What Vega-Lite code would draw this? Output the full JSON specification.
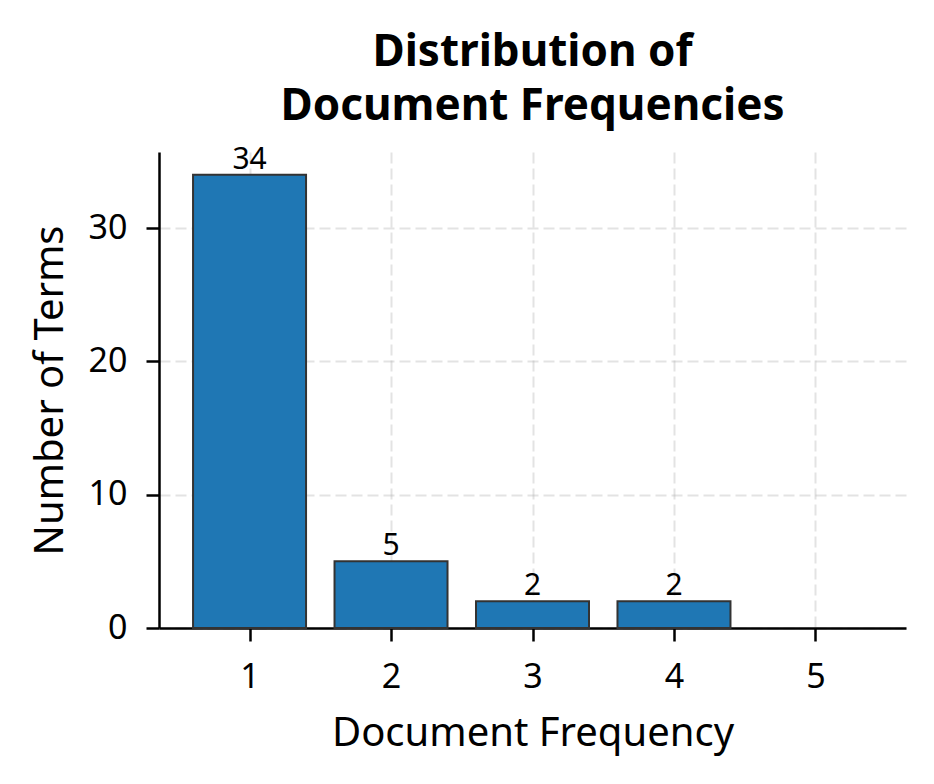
{
  "$schema": "https://vega.github.io/schema/vega-lite/v6.json",
  "width": 747,
  "height": 476,
  "autosize": {"type": "none"},
  "padding": {"left": 159, "top": 152, "right": 28, "bottom": 156},
  "background": "white",
  "config": {
    "view": {"stroke": null},
    "font": "Noto Sans",
    "axis": {
      "labelFont": "Noto Sans",
      "titleFont": "Noto Sans",
      "labelFontSize": 34,
      "titleFontSize": 40,
      "titleFontWeight": "normal",
      "labelColor": "black",
      "titleColor": "black",
      "domainColor": "black",
      "domainWidth": 2.5,
      "tickColor": "black",
      "tickWidth": 2.5,
      "tickSize": 13,
      "gridColor": "#b0b0b0",
      "gridOpacity": 0.35,
      "gridDash": [11, 5],
      "gridWidth": 2,
      "zindex": 1
    }
  },
  "title": {
    "text": ["Distribution of", "Document Frequencies"],
    "font": "Noto Sans",
    "fontSize": 44,
    "fontWeight": "bold",
    "color": "black",
    "anchor": "middle",
    "offset": 16,
    "lineHeight": 54
  },
  "data": {
    "values": [
      {"df": 1, "count": 34},
      {"df": 2, "count": 5},
      {"df": 3, "count": 2},
      {"df": 4, "count": 2},
      {"df": 5, "count": 0}
    ]
  },
  "transform": [{"filter": "datum.count > 0"}],
  "layer": [
    {
      "mark": {"type": "bar", "width": 113, "fill": "#1f77b4", "stroke": "#333333", "strokeWidth": 2},
      "encoding": {
        "x": {
          "field": "df",
          "type": "quantitative",
          "scale": {"domain": [0.36, 5.64], "nice": false, "zero": false, "padding": 0},
          "axis": {"values": [1, 2, 3, 4, 5], "format": "d", "title": "Document Frequency", "labelPadding": 19, "titlePadding": 19}
        },
        "y": {
          "field": "count",
          "type": "quantitative",
          "scale": {"domain": [0, 35.7], "nice": false},
          "axis": {"values": [0, 10, 20, 30], "title": "Number of Terms", "labelPadding": 19, "titlePadding": 18}
        }
      }
    },
    {
      "mark": {"type": "text", "baseline": "alphabetic", "dy": -6, "fontSize": 30, "font": "Noto Sans", "color": "black"},
      "encoding": {
        "x": {"field": "df", "type": "quantitative"},
        "y": {"field": "count", "type": "quantitative"},
        "text": {"field": "count", "type": "quantitative"}
      }
    }
  ]
}
